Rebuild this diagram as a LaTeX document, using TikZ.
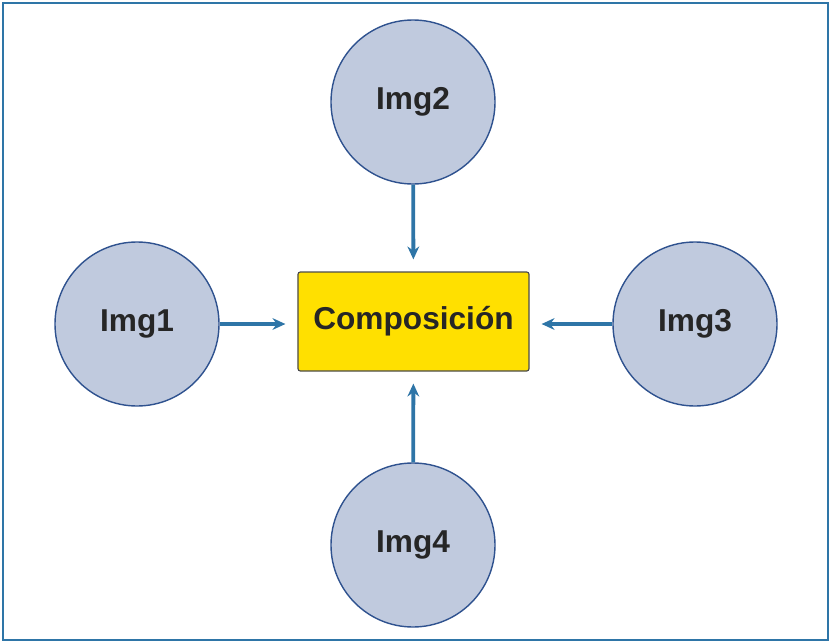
\documentclass[tikz,border=0pt]{standalone}
\usepackage{fontspec}
\setmainfont{Liberation Sans}
\usetikzlibrary{positioning,arrows.meta}
\definecolor{imgfill}{RGB}{192,202,222}
\definecolor{imgline}{RGB}{47,82,143}
\definecolor{arrowblue}{RGB}{46,117,167}
\definecolor{compfill}{RGB}{255,224,0}
\tikzset{
    >={Stealth[length=11pt,width=10pt]}, % bold arrow heads
    img/.style={circle, draw=imgline, fill=imgfill, line width=1.2pt, minimum size=4.92cm, font=\fontsize{27}{30}\selectfont\bfseries, text=black!85},
    comp/.style={draw=black!70, fill=compfill, rounded corners=2pt, line width=1pt, minimum width=6.93cm, minimum height=2.97cm, font=\fontsize{27}{30}\selectfont\bfseries, text=black!85},
    link/.style={->, draw=arrowblue, line width=3.3pt, shorten >=0.36cm},
}
\begin{document}
\begin{tikzpicture}[x=0.03cm, y=-0.03cm]
            \useasboundingbox (0,0) rectangle (831,643);
            \draw[draw=arrowblue, line width=1.2pt] (3,3) rectangle (828,640);

            \node[comp] (c) at (413.5,321.5) {Composición};

            % images around the composition
            \node[img] (i2) at (413,102) {Img2};
            \node[img] (i1) at (137,324) {Img1};
            \node[img] (i3) at (695,324) {Img3};
            \node[img] (i4) at (413,545) {Img4};

            \draw[link] (i1) -- (i1 -| c.west);
            \draw[link] (i3) -- (i3 -| c.east);
            \draw[link] (i2) -- (c);
            \draw[link] (i4) -- (c);
\end{tikzpicture}
\end{document}
